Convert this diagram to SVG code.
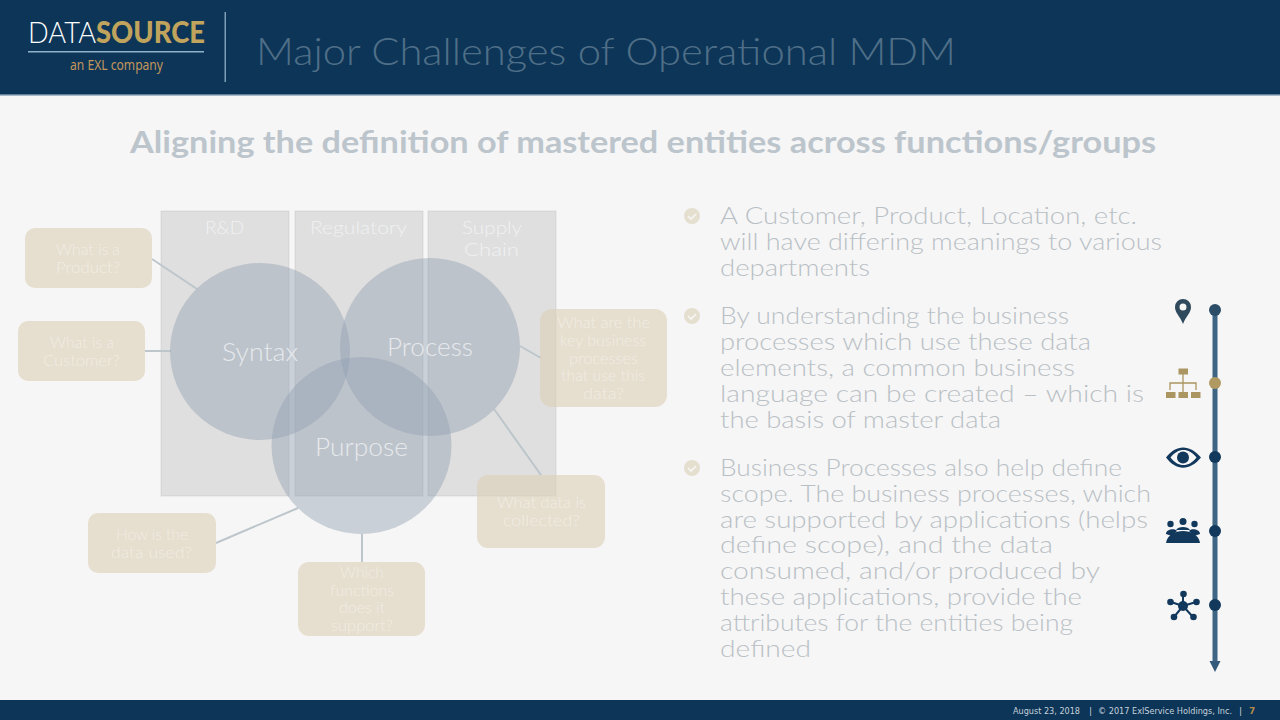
<svg xmlns="http://www.w3.org/2000/svg" width="1280" height="720" viewBox="0 0 1280 720">
<style>
text{font-family:"Lato","Liberation Sans",sans-serif;font-weight:300}
.b{font-size:24px;fill:#b9c0c5}
.bx{font-size:15.5px;fill:#f1ede3}
.hd{font-size:18.5px;fill:#f0f1f2}
.ci{font-size:25px;fill:#e6e9ec}
.box{fill:#dccfb6;fill-opacity:.6}
.col{fill:#888;fill-opacity:.2;stroke:#8a9096;stroke-opacity:.16;stroke-width:1.2}
.cir{fill:#91a0b1;fill-opacity:.44}
.con{stroke:#bcc6cb;stroke-width:2;fill:none}
.ck{fill:#e5dfcf}
.ckm{stroke:#f6f6f6;stroke-width:1.6;fill:none}
.dk{fill:#12395c}
.gd{fill:#ab9560}
</style>
<rect width="1280" height="720" fill="#f6f6f6"/>
<g id="header">
<rect width="1280" height="95" fill="#0d3557"/>
<rect y="94" width="1280" height="1.5" fill="#5f7f9a"/>
<text x="28" y="43" font-size="30" fill="#fff" textLength="68" lengthAdjust="spacingAndGlyphs">DATA</text>
<text x="96" y="43" font-size="30" fill="#c0a35c" style="font-weight:900" textLength="109" lengthAdjust="spacingAndGlyphs">SOURCE</text>
<rect x="28" y="51" width="176" height="1.5" fill="#8fb2cc"/>
<text x="70" y="70" font-size="14" fill="#c2965c" style="font-family:'Noto Sans',sans-serif;font-weight:400" textLength="93" lengthAdjust="spacingAndGlyphs">an EXL company</text>
<rect x="224.500" y="12" width="1.500" height="70" fill="#7e9fb8"/>
<text x="256" y="65" font-size="37" fill="#4f6f88" textLength="700" lengthAdjust="spacingAndGlyphs">Major Challenges of Operational MDM</text>
</g>
<text id="subtitle" x="130" y="153" font-size="31" fill="#bcc5cc" style="font-weight:700" textLength="1026" lengthAdjust="spacingAndGlyphs">Aligning the definition of mastered entities across functions/groups</text>
<g id="col-rd"><rect class="col" x="161" y="211" width="128" height="285"/><text class="hd" x="205" y="234" textLength="39" lengthAdjust="spacingAndGlyphs">R&amp;D</text></g>
<g id="col-reg"><rect class="col" x="295" y="211" width="128" height="285"/><text class="hd" x="310" y="234" textLength="97" lengthAdjust="spacingAndGlyphs">Regulatory</text></g>
<g id="col-sc"><rect class="col" x="428" y="211" width="128" height="285"/><text class="hd" x="462" y="234" textLength="60" lengthAdjust="spacingAndGlyphs">Supply</text><text class="hd" x="464" y="256" textLength="55" lengthAdjust="spacingAndGlyphs">Chain</text></g>
<g id="connectors">
<path class="con" d="M152 259L197 289"/>
<path class="con" d="M145 351H171"/>
<path class="con" d="M520 346L541 358"/>
<path class="con" d="M494 409L541 475"/>
<path class="con" d="M216 543L298 508"/>
<path class="con" d="M362 534V562"/>
</g>
<g id="syntax"><ellipse class="cir" cx="260" cy="351.500" rx="90" ry="88.500"/><text class="ci" x="222" y="361" textLength="76" lengthAdjust="spacingAndGlyphs">Syntax</text></g>
<g id="process"><ellipse class="cir" cx="430" cy="347" rx="90" ry="89"/><text class="ci" x="387" y="356" textLength="86" lengthAdjust="spacingAndGlyphs">Process</text></g>
<g id="purpose"><ellipse class="cir" cx="361.500" cy="445.500" rx="90" ry="88.500"/><text class="ci" x="315" y="456" textLength="93" lengthAdjust="spacingAndGlyphs">Purpose</text></g>
<g id="q-product"><rect class="box" x="25" y="228" width="127" height="60" rx="10"/><text class="bx" x="56" y="255" textLength="64" lengthAdjust="spacingAndGlyphs">What is a</text><text class="bx" x="56" y="273" textLength="64" lengthAdjust="spacingAndGlyphs">Product?</text></g>
<g id="q-customer"><rect class="box" x="18" y="321" width="127" height="60" rx="10"/><text class="bx" x="50" y="348" textLength="64" lengthAdjust="spacingAndGlyphs">What is a</text><text class="bx" x="43" y="366" textLength="77" lengthAdjust="spacingAndGlyphs">Customer?</text></g>
<g id="q-key"><rect class="box" x="540" y="309" width="127" height="98" rx="12"/><text class="bx" x="557" y="328" textLength="93" lengthAdjust="spacingAndGlyphs">What are the</text><text class="bx" x="560" y="346" textLength="86" lengthAdjust="spacingAndGlyphs">key business</text><text class="bx" x="569" y="364" textLength="69" lengthAdjust="spacingAndGlyphs">processes</text><text class="bx" x="561" y="381" textLength="84" lengthAdjust="spacingAndGlyphs">that use this</text><text class="bx" x="583" y="399" textLength="41" lengthAdjust="spacingAndGlyphs">data?</text></g>
<g id="q-data"><rect class="box" x="477" y="475" width="128" height="73" rx="11"/><text class="bx" x="497" y="508" textLength="89" lengthAdjust="spacingAndGlyphs">What data is</text><text class="bx" x="503" y="526" textLength="77" lengthAdjust="spacingAndGlyphs">collected?</text></g>
<g id="q-used"><rect class="box" x="88" y="513" width="128" height="60" rx="10"/><text class="bx" x="116" y="540" textLength="72" lengthAdjust="spacingAndGlyphs">How is the</text><text class="bx" x="111" y="558" textLength="81" lengthAdjust="spacingAndGlyphs">data used?</text></g>
<g id="q-func"><rect class="box" x="298" y="562" width="127" height="74" rx="11"/><text class="bx" x="340" y="578" textLength="44" lengthAdjust="spacingAndGlyphs">Which</text><text class="bx" x="330" y="596" textLength="64" lengthAdjust="spacingAndGlyphs">functions</text><text class="bx" x="339" y="613" textLength="46" lengthAdjust="spacingAndGlyphs">does it</text><text class="bx" x="331" y="631" textLength="62" lengthAdjust="spacingAndGlyphs">support?</text></g>
<g id="bullet-1"><circle class="ck" cx="692" cy="216" r="8"/><path class="ckm" d="M688 216l3 3l5-5"/>
<text class="b" x="720" y="224" textLength="417" lengthAdjust="spacingAndGlyphs">A Customer, Product, Location, etc.</text>
<text class="b" x="720" y="250" textLength="442" lengthAdjust="spacingAndGlyphs">will have differing meanings to various</text>
<text class="b" x="720" y="276" textLength="150" lengthAdjust="spacingAndGlyphs">departments</text></g>
<g id="bullet-2"><circle class="ck" cx="692" cy="316" r="8"/><path class="ckm" d="M688 316l3 3l5-5"/>
<text class="b" x="720" y="324" textLength="349" lengthAdjust="spacingAndGlyphs">By understanding the business</text>
<text class="b" x="720" y="350" textLength="371" lengthAdjust="spacingAndGlyphs">processes which use these data</text>
<text class="b" x="720" y="376" textLength="355" lengthAdjust="spacingAndGlyphs">elements, a common business</text>
<text class="b" x="720" y="402" textLength="424" lengthAdjust="spacingAndGlyphs">language can be created – which is</text>
<text class="b" x="720" y="428" textLength="281" lengthAdjust="spacingAndGlyphs">the basis of master data</text></g>
<g id="bullet-3"><circle class="ck" cx="692" cy="468" r="8"/><path class="ckm" d="M688 468l3 3l5-5"/>
<text class="b" x="720" y="476" textLength="402" lengthAdjust="spacingAndGlyphs">Business Processes also help define</text>
<text class="b" x="720" y="501.500" textLength="431" lengthAdjust="spacingAndGlyphs">scope. The business processes, which</text>
<text class="b" x="720" y="527.500" textLength="428" lengthAdjust="spacingAndGlyphs">are supported by applications (helps</text>
<text class="b" x="720" y="553" textLength="333" lengthAdjust="spacingAndGlyphs">define scope), and the data</text>
<text class="b" x="720" y="579" textLength="380" lengthAdjust="spacingAndGlyphs">consumed, and/or produced by</text>
<text class="b" x="720" y="605" textLength="362" lengthAdjust="spacingAndGlyphs">these applications, provide the</text>
<text class="b" x="720" y="631" textLength="353" lengthAdjust="spacingAndGlyphs">attributes for the entities being</text>
<text class="b" x="720" y="657" textLength="91" lengthAdjust="spacingAndGlyphs">defined</text></g>
<g id="timeline">
<rect x="1212.500" y="310" width="5" height="354" fill="#3f6584"/>
<path d="M1209.500 661H1220.500L1215 672Z" fill="#35597a"/>
<circle cx="1215" cy="310" r="6" fill="#2c4d68"/>
<circle cx="1215" cy="383" r="6" fill="#b09a62"/>
<circle cx="1215" cy="457" r="6" class="dk"/>
<circle cx="1215" cy="531" r="6" class="dk"/>
<circle cx="1215" cy="605" r="6" class="dk"/>
</g>
<g id="icon-pin"><path fill-rule="evenodd" fill="#2f4a5c" d="M1183 324C1180 316 1175 313 1175 307A8 8 0 0 1 1191 307C1191 313 1186 316 1183 324ZM1183 303.500A3.500 3.500 0 1 0 1183 310.500A3.500 3.500 0 1 0 1183 303.500Z"/></g>
<g id="icon-org"><rect class="gd" x="1178.500" y="368.500" width="9.500" height="6"/><rect class="gd" x="1166" y="392" width="9.500" height="6"/><rect class="gd" x="1178.500" y="392" width="9.500" height="6"/><rect class="gd" x="1191" y="392" width="9.500" height="6"/><path d="M1183 374V392M1170 390V383H1196V390" fill="none" stroke="#ab9560" stroke-width="1.300"/></g>
<g id="icon-eye"><path fill-rule="evenodd" class="dk" d="M1166 457.500C1176 444 1190 444 1201 457.500C1190 471 1176 471 1166 457.500ZM1170.500 457.500C1178 467.500 1189 467.500 1196.500 457.500C1189 447.500 1178 447.500 1170.500 457.500Z"/><circle cx="1183" cy="457.500" r="6" class="dk"/></g>
<g id="icon-people"><circle cx="1170.500" cy="524" r="3.200" class="dk"/><circle cx="1183" cy="521.500" r="3.500" class="dk"/><circle cx="1194.500" cy="524" r="3.200" class="dk"/><path class="dk" d="M1166 534C1166 529 1175 528 1177 531L1172 536ZM1176 530C1178 526 1188 526 1190 530ZM1200 534C1200 529 1191 528 1189 531L1194 536Z"/><path class="dk" d="M1166 543C1168 527 1198 527 1200 543Z"/></g>
<g id="icon-net"><path d="M1183 606V595M1183 606L1171 602M1183 606L1196 602M1183 606L1174 617M1183 606L1193 617" stroke="#12395c" stroke-width="2"/><circle cx="1183" cy="606" r="5" class="dk"/><circle cx="1183.500" cy="594" r="3.300" class="dk"/><circle cx="1170.500" cy="602" r="3.300" class="dk"/><circle cx="1196.500" cy="602" r="3.300" class="dk"/><circle cx="1174" cy="617" r="3.300" class="dk"/><circle cx="1193.500" cy="617" r="3.300" class="dk"/></g>
<g id="footer">
<rect y="700" width="1280" height="20" fill="#0d3557"/>
<g style="font-size:9px" fill="#c6d2dc">
<text x="1013" y="714" style="font-family:'DejaVu Sans',sans-serif;font-weight:400" textLength="67" lengthAdjust="spacingAndGlyphs">August 23, 2018</text>
<text x="1089" y="714" style="font-family:'DejaVu Sans',sans-serif;font-weight:400">|</text>
<text x="1098" y="714" style="font-family:'DejaVu Sans',sans-serif;font-weight:400" textLength="134" lengthAdjust="spacingAndGlyphs">© 2017 ExlService Holdings, Inc.</text>
<text x="1239" y="714" style="font-family:'DejaVu Sans',sans-serif;font-weight:400">|</text>
<text x="1249" y="714" style="font-family:'DejaVu Sans',sans-serif;font-weight:700" fill="#b08a4a">7</text>
</g></g>
</svg>
